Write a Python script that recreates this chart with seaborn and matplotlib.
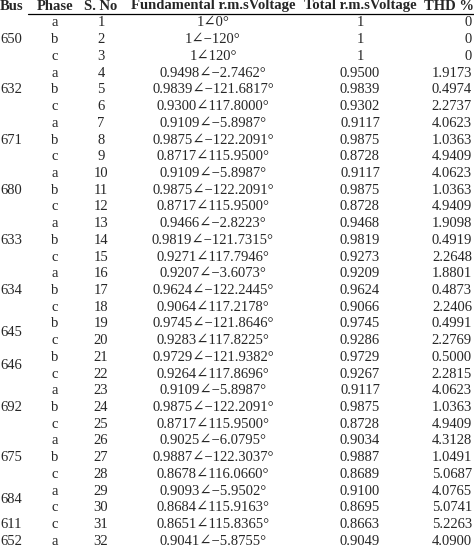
import matplotlib
matplotlib.use("Agg")
import matplotlib.pyplot as plt
import seaborn as sns

headers = ["Bus", "Phase", "S. No", "Fundamental r.m.sVoltage", "Total r.m.sVoltage", "THD %"]
phases = list("abcabcabcabcabcabcbcbcabcabcacca")
serial = list(range(1, 33))
magnitude = ["1", "1", "1", "0.9498", "0.9839", "0.9300", "0.9109", "0.9875", "0.8717",
             "0.9109", "0.9875", "0.8717", "0.9466", "0.9819", "0.9271", "0.9207",
             "0.9624", "0.9064", "0.9745", "0.9283", "0.9729", "0.9264", "0.9109",
             "0.9875", "0.8717", "0.9025", "0.9887", "0.8678", "0.9093", "0.8684",
             "0.8651", "0.9041"]
angle = ["0", "−120", "120", "−2.7462", "−121.6817", "117.8000", "−5.8987", "−122.2091",
         "115.9500", "−5.8987", "−122.2091", "115.9500", "−2.8223", "−121.7315",
         "117.7946", "−3.6073", "−122.2445", "117.2178", "−121.8646", "117.8225",
         "−121.9382", "117.8696", "−5.8987", "−122.2091", "115.9500", "−6.0795",
         "−122.3037", "116.0660", "−5.9502", "115.9163", "115.8365", "−5.8755"]
total_rms = ["1", "1", "1", "0.9500", "0.9839", "0.9302", "0.9117", "0.9875", "0.8728",
             "0.9117", "0.9875", "0.8728", "0.9468", "0.9819", "0.9273", "0.9209",
             "0.9624", "0.9066", "0.9745", "0.9286", "0.9729", "0.9267", "0.9117",
             "0.9875", "0.8728", "0.9034", "0.9887", "0.8689", "0.9100", "0.8695",
             "0.8663", "0.9049"]
thd = ["0", "0", "0", "1.9173", "0.4974", "2.2737", "4.0623", "1.0363", "4.9409",
       "4.0623", "1.0363", "4.9409", "1.9098", "0.4919", "2.2648", "1.8801", "0.4873",
       "2.2406", "0.4991", "2.2769", "0.5000", "2.2815", "4.0623", "1.0363", "4.9409",
       "4.3128", "1.0491", "5.0687", "4.0765", "5.0741", "5.2263", "4.0900"]
# bus label and the (fractional) row index it is centred on
buses = ["650", "632", "671", "680", "633", "634", "645", "646", "692", "675", "684", "611", "652"]
bus_rows = [2, 5, 8, 11, 14, 17, 19.5, 21.5, 24, 27, 29.5, 31, 32]

sns.set_theme(style="white")
plt.rcParams["font.family"] = ["Liberation Serif", "DejaVu Serif"]

fig = plt.figure(figsize=(4.74, 5.51), dpi=100)
ax = fig.add_axes([0, 0, 1, 1])
ax.set_xlim(0, 474)
ax.set_ylim(551, 0)
ax.axis("off")

fs = 10.5
row_y = lambda r: 23 + (r - 1) * 16.72

hx = [0, 55, 101, 213, 360, 474]
ha = ["left", "center", "center", "center", "center", "right"]
for h, x, a in zip(headers, hx, ha):
    ax.text(x, 6, h, ha=a, va="center", fontsize=fs, fontweight="bold")
ax.plot([28, 474], [13.5, 13.5], color="black", lw=0.9)

for i in range(32):
    y = row_y(i + 1)
    ax.text(55, y, phases[i], ha="center", va="center", fontsize=fs)
    ax.text(101, y, str(serial[i]), ha="center", va="center", fontsize=fs)
    ax.text(213, y, f"{magnitude[i]}∠{angle[i]}°", ha="center", va="center", fontsize=fs)
    ax.text(360, y, total_rms[i], ha="center", va="center", fontsize=fs)
    ax.text(472, y, thd[i], ha="right", va="center", fontsize=fs)

for b, r in zip(buses, bus_rows):
    ax.text(0, row_y(r), b, ha="left", va="center", fontsize=fs)

fig.savefig("out.png", dpi=100, facecolor="white")
